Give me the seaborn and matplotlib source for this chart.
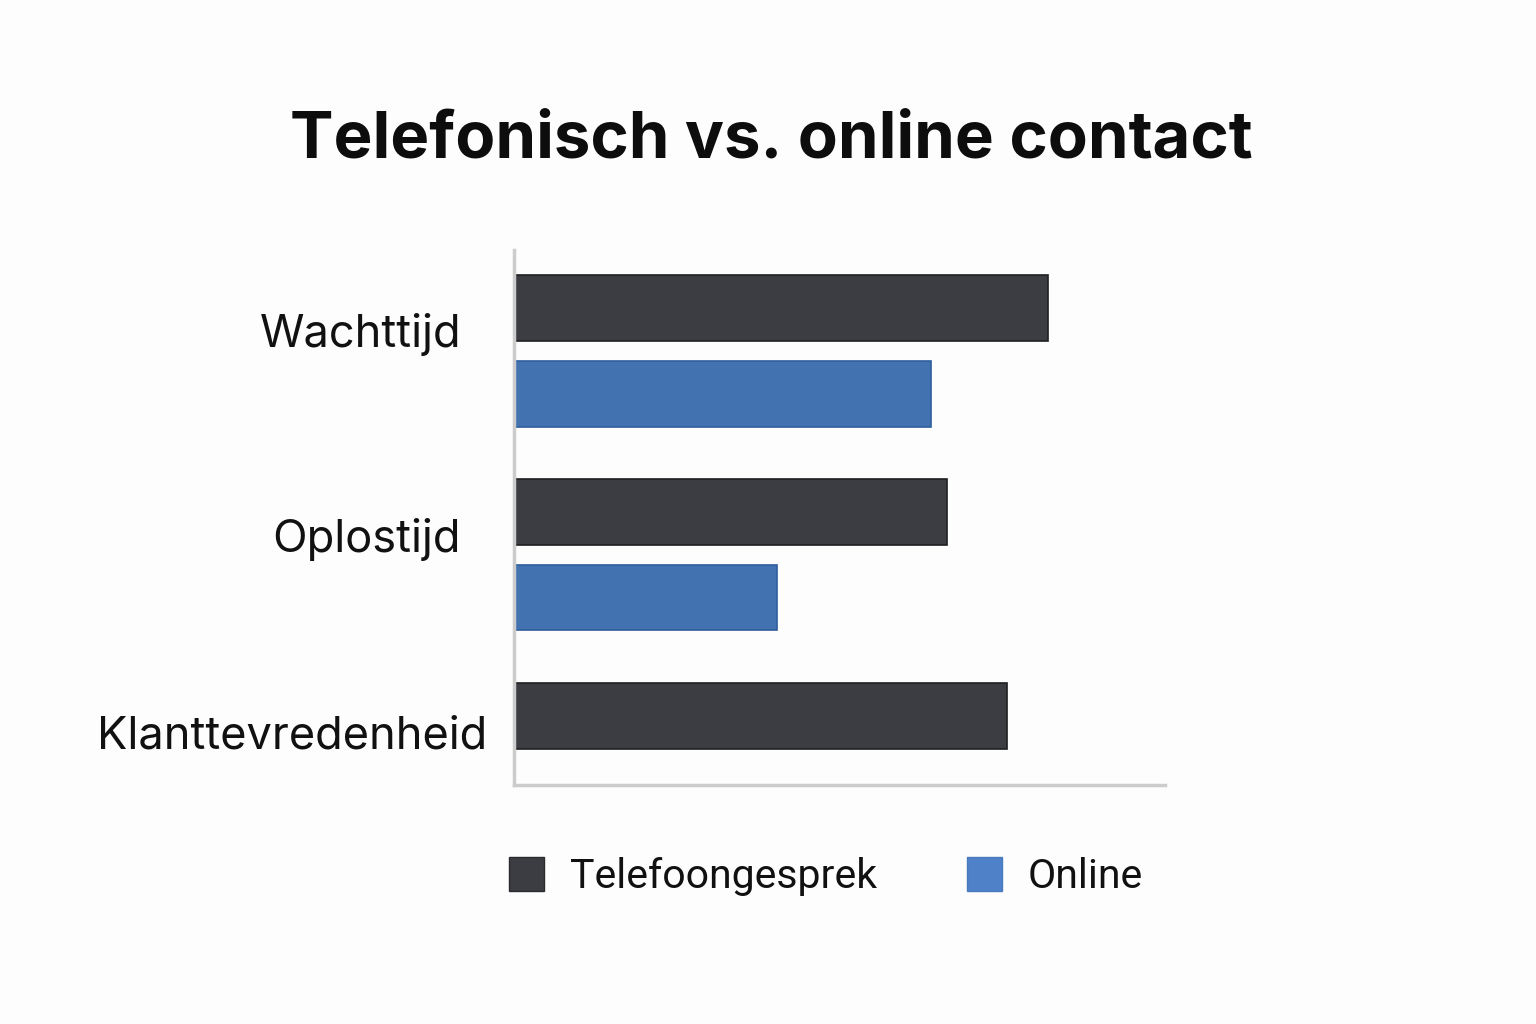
import matplotlib
matplotlib.use("Agg")
import matplotlib.pyplot as plt
import matplotlib.transforms as mtransforms
from matplotlib.patches import Patch
import numpy as np
import pandas as pd
import seaborn as sns

# data (share of the axis length, 0-100)
categories = ["Wachttijd", "Oplostijd", "Klanttevredenheid"]
telefoon = [82.0, 66.5, 75.8]
online = [64.0, 40.4, np.nan]
series = ["Telefoongesprek", "Online"]

df = pd.DataFrame({
    "categorie": categories * 2,
    "waarde": telefoon + online,
    "kanaal": [series[0]] * 3 + [series[1]] * 3,
})

sns.set_style("white")
plt.rcParams["font.family"] = ["Inter", "DejaVu Sans"]

bg = "#fdfdfd"
dark = "#3c3d42"
blue = "#4273b0"

fig = plt.figure(figsize=(15.36, 10.24), dpi=100, facecolor=bg)
ax = fig.add_axes([0.3346, 0.2334, 0.4238, 0.5225])
ax.set_facecolor(bg)

sns.barplot(data=df, x="waarde", y="categorie", hue="kanaal",
            order=categories, hue_order=series, orient="h",
            palette=[dark, blue], saturation=1, width=0.84, gap=0.23,
            legend=False, ax=ax)

# thin edges like the reference
for bar in ax.patches:
    fc = bar.get_facecolor()
    bar.set_edgecolor("#1e1f22" if fc[2] < 0.4 else "#2f5e9e")
    bar.set_linewidth(1.2)

ax.set_xlim(0, 100)
ax.set_ylim(2.13, -0.495)
ax.set_xlabel("")
ax.set_ylabel("")
ax.set_xticks([])

sns.despine(ax=ax)
for side in ["left", "bottom"]:
    ax.spines[side].set_color("#cccccc")
    ax.spines[side].set_linewidth(2.5)

ax.tick_params(axis="y", length=0, pad=28, labelsize=32.5, labelcolor="#111111")
shifts = [(-14, 21), (-14, 20), (12, 27)]
for lab, (dx, dy) in zip(ax.get_yticklabels(), shifts):
    off = mtransforms.ScaledTranslation(dx / 100, dy / 100, fig.dpi_scale_trans)
    lab.set_transform(lab.get_transform() + off)

fig.text(0.502, 0.863, "Telefonisch vs. online contact", ha="center", va="center",
         fontsize=47, fontweight="bold", color="#0d0d0d")

handles = [Patch(facecolor=dark, edgecolor="#2a2b2e", label=series[0]),
           Patch(facecolor="#4f81c8", edgecolor="#4a7bbf", label=series[1])]
fig.legend(handles=handles, loc="center", bbox_to_anchor=(0.538, 0.144),
           ncol=2, frameon=False, prop={"family": "Roboto", "size": 29.5},
           labelcolor="#111111",
           handlelength=0.84, handleheight=0.9, handletextpad=0.64,
           columnspacing=2.2)

fig.savefig("out.png", dpi=100, facecolor=bg)
